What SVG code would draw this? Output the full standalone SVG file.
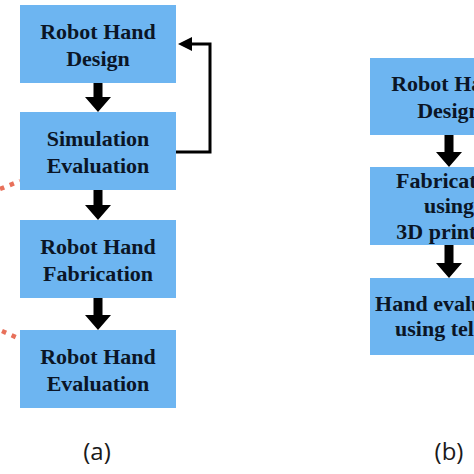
<svg xmlns="http://www.w3.org/2000/svg" width="474" height="474" viewBox="0 0 474 474">
<style>
.box{fill:#6db5f1}
.t{font-family:"Liberation Serif","Times New Roman",serif;font-weight:bold;font-size:22px;fill:#0b1526;text-anchor:middle}
.lab{font-family:"Open Sans","Noto Sans",sans-serif;font-size:24px;fill:#1a1a1a;text-anchor:middle}
.arr{fill:#000}
.dot{stroke:#e8705a;stroke-width:4.5;stroke-dasharray:4.5 6;fill:none}
</style>
<rect width="474" height="474" fill="#fff"/>
<g id="connectors">
<polygon class="arr" points="93.5,83 102.5,83 102.5,97 111,97 98,112 85,97 93.5,97"/>
<polygon class="arr" points="93.5,190 102.5,190 102.5,205 111,205 98,220 85,205 93.5,205"/>
<polygon class="arr" points="93.5,298 102.5,298 102.5,315 111,315 98,330 85,315 93.5,315"/>
<polyline points="176,152 210,152 210,44 189,44" fill="none" stroke="#000" stroke-width="3"/>
<polygon class="arr" points="178,44 192,37 192,51"/>
<polygon class="arr" points="444.5,135 453.5,135 453.5,152 462,152 449,167 436,152 444.5,152"/>
<polygon class="arr" points="444.5,245 453.5,245 453.5,263 462,263 449,278 436,263 444.5,263"/>
<path class="dot" d="M0,189 L20,181"/>
<path class="dot" d="M2,331 L20,339"/>
</g>
<g id="a1"><rect class="box" x="20" y="5" width="156" height="78"/><text class="t" x="98" y="39">Robot Hand</text><text class="t" x="98" y="66">Design</text></g>
<g id="a2"><rect class="box" x="20" y="112" width="156" height="78"/><text class="t" x="98" y="146">Simulation</text><text class="t" x="98" y="173">Evaluation</text></g>
<g id="a3"><rect class="box" x="20" y="220" width="156" height="78"/><text class="t" x="98" y="254">Robot Hand</text><text class="t" x="98" y="281">Fabrication</text></g>
<g id="a4"><rect class="box" x="20" y="330" width="156" height="78"/><text class="t" x="98" y="364">Robot Hand</text><text class="t" x="98" y="391">Evaluation</text></g>
<g id="b1"><rect class="box" x="370" y="58" width="156" height="77"/><text class="t" x="449" y="91">Robot Hand</text><text class="t" x="449" y="118">Design</text></g>
<g id="b2"><rect class="box" x="370" y="167" width="156" height="78"/><text class="t" x="451" y="188">Fabrication</text><text class="t" x="449" y="213">using</text><text class="t" x="451" y="239">3D printing</text></g>
<g id="b3"><rect class="box" x="370" y="278" width="156" height="77"/><text class="t" x="453" y="311">Hand evaluation</text><text class="t" x="395" y="336" text-anchor="start" style="text-anchor:start">using teleoperation</text></g>
<text class="lab" x="97" y="460">(a)</text>
<text class="lab" x="449" y="460">(b)</text>
</svg>
